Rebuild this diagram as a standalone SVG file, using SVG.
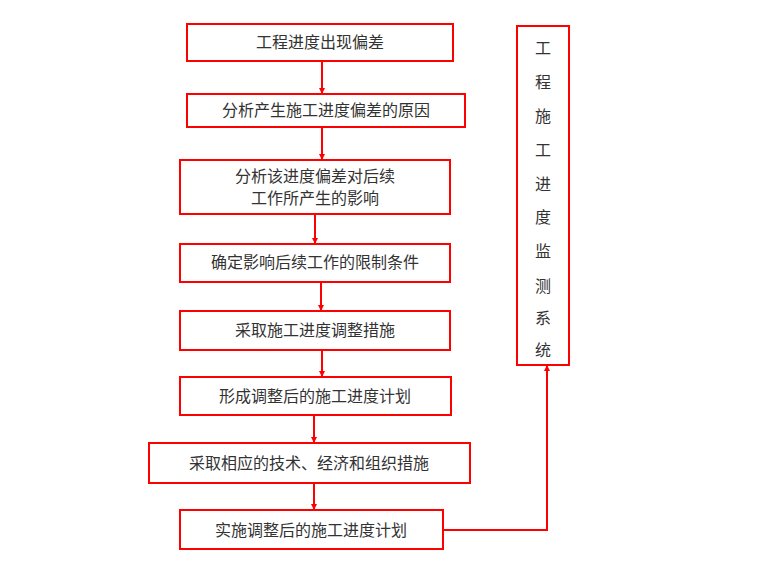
<svg xmlns="http://www.w3.org/2000/svg" width="760" height="570" viewBox="0 0 760 570">
<style>
rect{fill:#fff;stroke:#ff0000;stroke-width:2}
text{font-family:"Noto Sans CJK SC","Liberation Sans",sans-serif;font-size:16px;fill:#333;text-anchor:middle}
.c{stroke:#ff0000;stroke-width:2;fill:none}
</style>
<defs><marker id="a" markerWidth="6" markerHeight="6" refX="5" refY="3" orient="auto" markerUnits="userSpaceOnUse"><path d="M0,0L6,3L0,6z" fill="#ff0000"/></marker></defs>
<rect width="760" height="570" style="stroke:none"/>
<g id="n1"><rect x="187" y="24" width="266" height="37"/><text x="320" y="48">工程进度出现偏差</text></g>
<g id="n2"><rect x="187" y="94" width="278" height="33"/><text x="326" y="116">分析产生施工进度偏差的原因</text></g>
<g id="n3"><rect x="180" y="160" width="270" height="54"/><text x="315" y="182">分析该进度偏差对后续</text><text x="315" y="204">工作所产生的影响</text></g>
<g id="n4"><rect x="180" y="244" width="270" height="38"/><text x="315" y="268">确定影响后续工作的限制条件</text></g>
<g id="n5"><rect x="180" y="311" width="270" height="39"/><text x="315" y="336">采取施工进度调整措施</text></g>
<g id="n6"><rect x="180" y="377" width="271" height="38"/><text x="315" y="402">形成调整后的施工进度计划</text></g>
<g id="n7"><rect x="149" y="443" width="321" height="40"/><text x="309" y="469">采取相应的技术、经济和组织措施</text></g>
<g id="n8"><rect x="180" y="510" width="263" height="39"/><text x="311" y="536">实施调整后的施工进度计划</text></g>
<g id="n9"><rect x="517" y="26" width="52" height="339"/>
<text x="543" y="54">工</text><text x="543" y="88">程</text><text x="543" y="122">施</text><text x="543" y="156">工</text><text x="543" y="190">进</text><text x="543" y="223">度</text><text x="543" y="257">监</text><text x="543" y="292">测</text><text x="543" y="324">系</text><text x="543" y="356">统</text></g>
<g id="connectors">
<path class="c" d="M322,61V93" marker-end="url(#a)"/>
<path class="c" d="M322,127V159" marker-end="url(#a)"/>
<path class="c" d="M315,214V243" marker-end="url(#a)"/>
<path class="c" d="M321,282V310" marker-end="url(#a)"/>
<path class="c" d="M322,350V376" marker-end="url(#a)"/>
<path class="c" d="M314,415V442" marker-end="url(#a)"/>
<path class="c" d="M314,483V509" marker-end="url(#a)"/>
<path class="c" d="M443,530H547V366" marker-end="url(#a)"/>
</g>
</svg>
